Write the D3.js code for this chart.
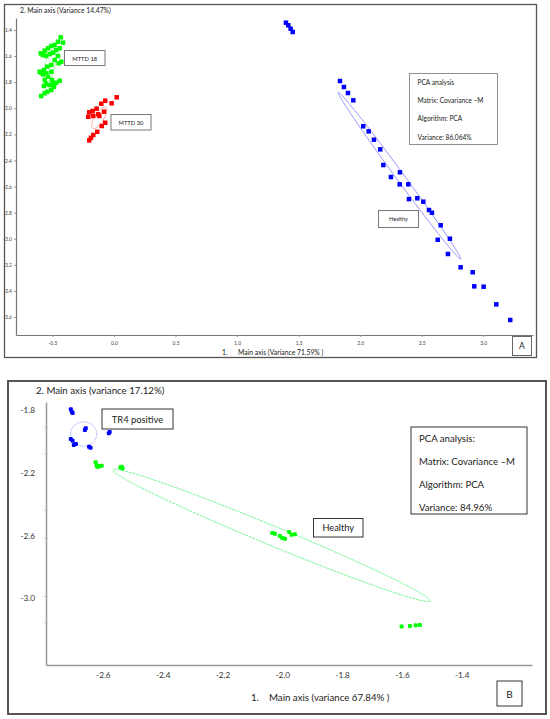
<!DOCTYPE html>
<html lang="en">
<head>
    <meta charset="UTF-8">
    <title>PCA score plots</title>
    <script src="https://d3js.org/d3.v7.min.js"></script>
    <style>
        body { margin: 0; background: #fff; font-family: Lato, "Open Sans", sans-serif; }
        svg { display: block; background: #fff; }
    </style>
</head>
<body>
<svg width="550" height="719"></svg>
<script>
    // ---- panel A values ----
    const aXTicks = [-0.5, 0.0, 0.5, 1.0, 1.5, 2.0, 2.5, 3.0];
    const aYTicks = [-1.4, -1.6, -1.8, -2.0, -2.2, -2.4, -2.6, -2.8, -3.0, -3.2, -3.4, -3.6];

    // MTTD 18
    const aGreen = [
        [-0.433, -1.456], [-0.414, -1.497], [-0.455, -1.490], [-0.482, -1.515], [-0.509, -1.523],
        [-0.536, -1.540], [-0.563, -1.559], [-0.595, -1.579], [-0.441, -1.540], [-0.469, -1.553],
        [-0.496, -1.574], [-0.522, -1.584], [-0.550, -1.599], [-0.577, -1.592], [-0.455, -1.599],
        [-0.428, -1.643], [-0.449, -1.655], [-0.482, -1.630], [-0.509, -1.668], [-0.542, -1.681],
        [-0.569, -1.707], [-0.591, -1.727], [-0.604, -1.720], [-0.577, -1.740], [-0.550, -1.732],
        [-0.509, -1.720], [-0.536, -1.758], [-0.563, -1.783], [-0.504, -1.783], [-0.441, -1.789],
        [-0.469, -1.804], [-0.496, -1.809], [-0.522, -1.822], [-0.550, -1.814], [-0.569, -1.829],
        [-0.487, -1.835], [-0.509, -1.860], [-0.542, -1.873], [-0.563, -1.885], [-0.591, -1.906]
    ];
    // MTTD 30
    const aRed = [
        [0.022, -1.916], [-0.019, -1.962], [-0.071, -1.942], [-0.103, -1.965], [-0.141, -2.003],
        [-0.173, -2.021], [-0.201, -2.031], [-0.209, -2.065], [-0.168, -2.059], [-0.128, -2.046],
        [-0.081, -2.026], [-0.119, -2.059], [-0.071, -2.111], [-0.100, -2.136], [-0.136, -2.180],
        [-0.168, -2.205], [-0.187, -2.226], [-0.201, -2.246]
    ];
    // Healthy
    const aBlue = [
        [1.397, -1.344], [1.416, -1.364], [1.435, -1.390], [1.452, -1.415],
        [1.836, -1.791], [1.868, -1.837], [1.901, -1.883], [1.944, -1.939], [2.025, -2.138],
        [2.069, -2.177], [2.112, -2.241], [2.163, -2.315], [2.188, -2.435], [2.250, -2.527],
        [2.323, -2.491], [2.321, -2.583], [2.391, -2.583], [2.396, -2.696], [2.464, -2.690],
        [2.513, -2.716], [2.559, -2.780], [2.583, -2.801], [2.654, -2.897], [2.630, -3.008],
        [2.729, -3.000], [2.713, -3.117], [2.816, -3.219], [2.914, -3.257], [2.927, -3.365],
        [3.003, -3.368], [3.106, -3.503], [3.219, -3.623]
    ];
    // confidence ellipses: centre x, centre y, half major axis (dx, dy), half minor axis (dx, dy)
    const aEllipseGreen = [-0.520, -1.674, 0.0268, 0.1211, 0.0398, -0.0077];
    const aEllipseRed = [-0.119, -2.073, 0.0544, 0.0805, 0.0308, -0.0186];
    const aEllipseBlue = [2.319, -2.517, 0.497, -0.639, -0.0262, -0.0182];

    const aInfo = ["PCA analysis", "Matrix: Covariance \u2013M", "Algorithm: PCA", "Variance: 86.064%"];

    // ---- panel B values ----
    const bXTicks = [-2.6, -2.4, -2.2, -2.0, -1.8, -1.6, -1.4];
    const bYTicks = [-1.8, -2.2, -2.6, -3.0];
    const bYMinor = [-1.91, -2.08, -2.44, -2.62, -2.99, -3.16];

    // TR4 positive
    const bBlue = [
        [-2.707, -1.796], [-2.704, -1.811], [-2.701, -1.819], [-2.660, -1.928], [-2.657, -1.917],
        [-2.707, -1.985], [-2.701, -1.996], [-2.697, -2.023], [-2.690, -2.017], [-2.646, -2.034],
        [-2.641, -2.041], [-2.577, -1.940], [-2.580, -1.949]
    ];
    // Healthy
    const bGreen = [
        [-2.624, -2.134], [-2.621, -2.151], [-2.616, -2.162], [-2.610, -2.157], [-2.604, -2.155],
        [-2.619, -2.162], [-2.541, -2.166], [-2.534, -2.174], [-2.537, -2.162],
        [-2.033, -2.585], [-2.025, -2.589], [-2.008, -2.604], [-2.000, -2.617], [-1.991, -2.621],
        [-1.977, -2.578], [-1.969, -2.596], [-1.958, -2.593],
        [-1.601, -3.182], [-1.573, -3.178], [-1.554, -3.173], [-1.540, -3.172]
    ];
    const bEllipseBlue = [-2.664, -1.953, 0.0435, 0, 0, 0.077];
    const bEllipseGreen = [-2.036, -2.600, 0.530, -0.418, -0.0124, -0.0572];

    const bInfo = ["PCA analysis:", "Matrix: Covariance \u2013M", "Algorithm: PCA", "Variance: 84.96%"];

    const svg = d3.select("svg");
    const fmt = d => d.toFixed(1);

    // draws an ellipse outline in data space, then maps it through the scales
    function ellipse(g, e, x, y, color, width, dash) {
        const pts = d3.range(0, 121).map(i => {
            const t = i / 120 * 2 * Math.PI;
            return [e[0] + Math.cos(t) * e[2] + Math.sin(t) * e[4],
                    e[1] + Math.cos(t) * e[3] + Math.sin(t) * e[5]];
        });
        g.append("path")
            .attr("d", d3.line().x(d => x(d[0])).y(d => y(d[1]))(pts))
            .attr("fill", "none")
            .attr("stroke", color)
            .attr("stroke-width", width)
            .attr("stroke-dasharray", dash);
    }

    function squares(g, data, x, y, size, color, rx) {
        g.selectAll(null)
            .data(data)
            .enter()
            .append("rect")
            .attr("x", d => x(d[0]) - size / 2)
            .attr("y", d => y(d[1]) - size / 2)
            .attr("width", size)
            .attr("height", size)
            .attr("rx", rx)
            .attr("fill", color);
    }

    function labelBox(g, x0, y0, w, h, txt, size, stroke) {
        g.append("rect").attr("x", x0).attr("y", y0).attr("width", w).attr("height", h)
            .attr("fill", "#fff").attr("stroke", stroke).attr("stroke-width", 1);
        g.append("text").attr("x", x0 + w / 2).attr("y", y0 + h / 2)
            .attr("text-anchor", "middle").attr("dominant-baseline", "central")
            .attr("font-size", size).attr("fill", "#222").text(txt);
    }

    // ================= PANEL A =================
    const gA = svg.append("g");
    gA.append("rect").attr("x", 4.5).attr("y", 4.5).attr("width", 532).attr("height", 353)
        .attr("fill", "#fff").attr("stroke", "#555").attr("stroke-width", 1.3);

    const xA = d3.scaleLinear().domain([-0.796, 3.404]).range([16, 533]);
    const yA = d3.scaleLinear().domain([-3.738, -1.308]).range([335, 18]);

    const axA = gA.append("g").attr("transform", "translate(0,335)")
        .call(d3.axisBottom(xA).tickValues(aXTicks).tickFormat(fmt).tickSize(2).tickPadding(4).tickSizeOuter(0));
    const ayA = gA.append("g").attr("transform", "translate(16,0)")
        .call(d3.axisLeft(yA).tickValues(aYTicks).tickFormat(fmt).tickSize(2).tickPadding(2).tickSizeOuter(0));
    [axA, ayA].forEach(a => {
        a.select(".domain").attr("stroke", "#777").attr("stroke-width", 1.2);
        a.selectAll(".tick line").attr("stroke", "#999");
        a.selectAll("text").attr("font-size", 5).attr("fill", "#444").attr("font-family", "Lato, sans-serif");
    });

    gA.append("text").attr("x", 20).attr("y", 13).attr("font-size", 6.8).attr("fill", "#222")
        .text("2. Main axis (Variance 14.47%)");
    gA.append("text").attr("x", 222).attr("y", 355).attr("font-size", 6.8).attr("fill", "#222").text("1.");
    gA.append("text").attr("x", 238).attr("y", 355).attr("font-size", 6.8).attr("fill", "#222")
        .text("Main axis (Variance 71.59% )");

    ellipse(gA, aEllipseGreen, xA, yA, "#66f066", 0.6, null);
    ellipse(gA, aEllipseRed, xA, yA, "#f07070", 0.6, null);
    ellipse(gA, aEllipseBlue, xA, yA, "#6b6bff", 0.7, null);

    squares(gA, aGreen, xA, yA, 4.5, "#00ff00", 0);
    squares(gA, aRed, xA, yA, 4.5, "#ff0000", 0);
    squares(gA, aBlue, xA, yA, 4.5, "#0000ff", 0);

    labelBox(gA, 64.5, 50.5, 40.5, 15, "MTTD 18", 5.8, "#777");
    labelBox(gA, 111, 114.5, 40, 15.5, "MTTD 30", 5.8, "#777");
    labelBox(gA, 378.5, 210.5, 40, 17, "Healthy", 5.5, "#777");

    gA.append("rect").attr("x", 409.5).attr("y", 73.5).attr("width", 88).attr("height", 71)
        .attr("fill", "#fff").attr("stroke", "#777").attr("stroke-width", 0.8);
    gA.selectAll(null).data(aInfo).enter().append("text")
        .attr("x", 417.5).attr("y", (d, i) => 81.7 + i * 18.3)
        .attr("dominant-baseline", "central")
        .attr("font-size", 6.6).attr("fill", "#222").text(d => d);

    labelBox(gA, 512.5, 336.5, 19, 19, "A", 8.5, "#666");

    // ================= PANEL B =================
    const gB = svg.append("g");
    gB.append("rect").attr("x", 8).attr("y", 381).attr("width", 538).attr("height", 333)
        .attr("fill", "#fff").attr("stroke", "#444").attr("stroke-width", 1.8);

    const xB = d3.scaleLinear().domain([-2.79, -1.165]).range([46, 532]);
    const yB = d3.scaleLinear().domain([-3.427, -1.749]).range([665, 402]);

    const axB = gB.append("g").attr("transform", "translate(0,665)")
        .call(d3.axisBottom(xB).tickValues(bXTicks).tickFormat(fmt).tickSize(0).tickPadding(7).tickSizeOuter(0));
    const ayB = gB.append("g").attr("transform", "translate(46,0)")
        .call(d3.axisLeft(yB).tickValues(bYTicks).tickFormat(fmt).tickSize(0).tickPadding(11).tickSizeOuter(0));
    [axB, ayB].forEach(a => {
        a.select(".domain").attr("stroke", "#999").attr("stroke-width", 1.5);
        a.selectAll("text").attr("font-size", 8.2).attr("fill", "#333").attr("font-family", "Lato, sans-serif");
    });
    gB.selectAll(null).data(bYMinor).enter().append("line")
        .attr("x1", 44).attr("x2", 48)
        .attr("y1", d => yB(d)).attr("y2", d => yB(d))
        .attr("stroke", "#bbb").attr("stroke-width", 0.8);

    gB.append("text").attr("x", 36).attr("y", 394).attr("font-size", 9.7).attr("fill", "#222")
        .text("2. Main axis (variance 17.12%)");
    gB.append("text").attr("x", 251).attr("y", 701).attr("font-size", 9.7).attr("fill", "#222").text("1.");
    gB.append("text").attr("x", 269).attr("y", 701).attr("font-size", 9.7).attr("fill", "#222")
        .text("Main axis (variance 67.84% )");

    ellipse(gB, bEllipseBlue, xB, yB, "#8a8aff", 0.8, "1.5,1");
    ellipse(gB, bEllipseGreen, xB, yB, "#66f58c", 0.9, "3,0.8");

    squares(gB, bBlue, xB, yB, 4, "#0000ff", 1);
    squares(gB, bGreen, xB, yB, 4, "#00ff00", 1);

    labelBox(gB, 102, 409, 71, 20, "TR4 positive", 9.4, "#333");
    labelBox(gB, 313.5, 518.5, 49.5, 18.5, "Healthy", 9.2, "#333");

    gB.append("rect").attr("x", 411).attr("y", 427).attr("width", 116).attr("height", 87)
        .attr("fill", "#fff").attr("stroke", "#333").attr("stroke-width", 1);
    gB.selectAll(null).data(bInfo).enter().append("text")
        .attr("x", 419).attr("y", (d, i) => 438.5 + i * 23)
        .attr("dominant-baseline", "central")
        .attr("font-size", 9.6).attr("fill", "#222").text(d => d);

    labelBox(gB, 497, 681, 25, 25, "B", 10, "#333");
</script>
</body>
</html>
